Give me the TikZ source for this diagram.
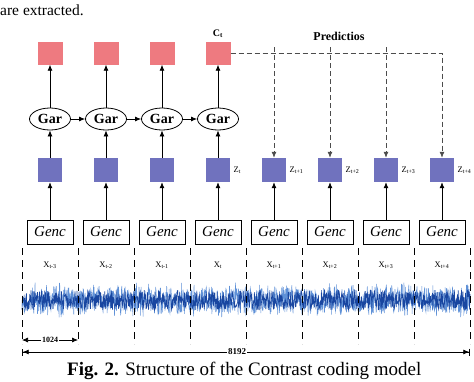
\documentclass[tikz,border=0pt]{standalone}
\usepackage{fontspec}
\setmainfont{Liberation Serif}
\usetikzlibrary{arrows.meta,shapes.geometric}
\definecolor{ctxred}{RGB}{238,122,128}
\definecolor{zblue}{RGB}{112,114,190}
\definecolor{wavelight}{RGB}{95,145,215}
\definecolor{wavedark}{RGB}{25,70,160}
\begin{document}
\begin{tikzpicture}[x=1pt,y=-1pt,
  >={Latex[length=6pt,width=5pt]},
  ctxbox/.style={fill=ctxred,minimum width=25pt,minimum height=23pt,inner sep=0pt},
  zbox/.style={fill=zblue,minimum width=24pt,minimum height=24pt,inner sep=0pt},
  garnode/.style={draw,ellipse,line width=0.8pt,minimum width=41pt,minimum height=22pt,inner sep=0pt,
    font=\bfseries\fontsize{14}{14}\selectfont},
  gencbox/.style={draw,line width=0.5pt,minimum width=46pt,minimum height=24pt,inner sep=0pt,
    font=\itshape\fontsize{15}{15}\selectfont},
  seg/.style={line width=1pt,dash pattern=on 7pt off 5pt},
  predline/.style={->,gray!60!black,line width=0.8pt,dash pattern=on 5pt off 3pt},
  small/.style={font=\fontsize{8.5}{8.5}\selectfont}]
\clip (0,0) rectangle (474,381);
% page text round the figure
\node[anchor=base west,inner sep=0pt,font=\fontsize{15.5}{16}\selectfont] (txt) at (0,15) {are extracted.};
\node[anchor=base west,inner sep=0pt,font=\fontsize{19}{20}\selectfont] (cap) at (67,375)
  {\textbf{Fig. 2.} Structure of the Contrast coding model};
% signal
\pgfmathsetseed{11}
\draw[wavelight,line width=0.5pt] plot[domain=22:470,samples=1100] (\x,{300+18*rand*(0.6+0.4*rnd)});
\draw[wavedark,line width=0.6pt] plot[domain=22:470,samples=1100] (\x,{300+10*rand});
\foreach \k in {0,...,8}
  \draw[seg] (22+56*\k,248)--(22+56*\k,344);
\foreach \i/\lab in {0/t-3,1/t-2,2/t-1,3/t,4/t+1,5/t+2,6/t+3,7/t+4}{
  \node[small] (x\i) at (50+56*\i,265) {X\textsubscript{\lab}};
  \node[gencbox] (genc\i) at (50+56*\i,232) {Genc};
  \node[zbox] (z\i) at (50+56*\i,170) {};
  \draw[->,line width=0.8pt] (genc\i) -- (z\i);
}
\foreach \i in {0,...,3}{
  \node[garnode] (gar\i) at (50+56*\i,119) {Gar};
  \node[ctxbox] (ctx\i) at (50+56*\i,53) {};
  \draw[->,line width=0.8pt] (z\i) -- (gar\i);
  \draw[->,line width=0.8pt] (gar\i) -- (ctx\i);
}
\foreach \i/\j in {0/1,1/2,2/3}
  \draw[->,line width=0.8pt] (gar\i) -- (gar\j);
\node[above,font=\bfseries\fontsize{10}{10}\selectfont] (ct) at (ctx3.north) {C\textsubscript{t}};
\node[font=\bfseries\fontsize{12}{12}\selectfont] (pr) at (339,36) {Predictios};
% predictions
\draw[predline] (ctx3.east) -| (z7.north);
\foreach \i in {4,5,6}{
  \coordinate (top\i) at (z\i |- ctx3.east);
  \draw[predline] ([yshift=6pt]top\i) -- (z\i.north);
}
\node[right,small] (zl3) at (z3.east) {Z\textsubscript{t}};
\foreach \i/\lab in {4/t+1,5/t+2,6/t+3,7/t+4}
  \node[right,small] (zl\i) at (z\i.east) {Z\textsubscript{\lab}};
% lengths
\coordinate (a0) at (22,340);
\coordinate (a1) at (78,340);
\coordinate (b0) at (22,352);
\coordinate (b1) at (470,352);
\draw[<->,line width=0.7pt] (a0) -- node[fill=white,inner sep=1pt,font=\bfseries\fontsize{8}{8}\selectfont] {1024} (a1);
\draw[{Bar[width=7pt]Latex[length=6pt,width=5pt]}-{Latex[length=6pt,width=5pt]Bar[width=7pt]},line width=0.7pt]
  (b0) -- node[pos=0.48,fill=white,inner sep=1pt,font=\bfseries\fontsize{9}{9}\selectfont] {8192} (b1);
\end{tikzpicture}
\end{document}
